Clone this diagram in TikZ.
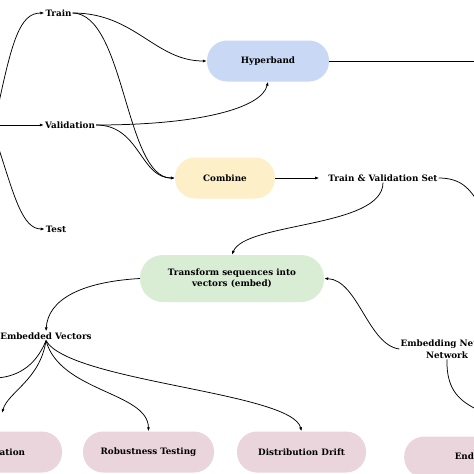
\documentclass[tikz,border=0pt]{standalone}
\usepackage{fontspec}
\setmainfont{DejaVu Serif}
\usetikzlibrary{arrows.meta}
\definecolor{cblue}{HTML}{C9D9F5}
\definecolor{cyellow}{HTML}{FDF0C9}
\definecolor{cgreen}{HTML}{D9ECD4}
\definecolor{cpink}{HTML}{EBD5DC}
\tikzset{
  lbl/.style={font=\fontsize{8.8}{11.5}\selectfont\bfseries, inner sep=1pt, align=center},
  pill/.style={lbl, rounded corners=20pt, minimum height=41pt},
  conn/.style={line width=0.75pt, -{Latex[length=4pt,width=3pt]}},
  plain/.style={line width=0.75pt},
}
\begin{document}
\begin{tikzpicture}[x=1pt,y=-1pt]
\useasboundingbox (0,0) rectangle (474,474);
\fill[white] (0,0) rectangle (474,474);
% text nodes
\node[lbl] (train) at (58.5,13) {Train};
\node[lbl] (val) at (70,125) {Validation};
\node[lbl] (test) at (56,229) {Test};
\node[lbl] (tvset) at (383,178) {Train \& Validation Set};
\node[lbl] (embvec) at (46,336) {Embedded Vectors};
\node[lbl] (embnet) at (447,349) {Embedding Neural\\Network};
% boxes
\node[pill, fill=cblue, minimum width=122pt] (hyper) at (268,61) {Hyperband};
\node[pill, fill=cyellow, minimum width=100pt] (combine) at (225,178) {Combine};
\node[pill, fill=cgreen, minimum width=184pt, minimum height=47pt, rounded corners=23pt] (transform) at (232,278.5) {Transform sequences into\\vectors (embed)};
\node[pill, fill=cpink, minimum width=138pt] (vis) at (-7,452) {Visualization};
\node[pill, fill=cpink, minimum width=131pt] (robust) at (148.5,452) {Robustness Testing};
\node[pill, fill=cpink, minimum width=129pt] (drift) at (301.5,452) {Distribution Drift};
\node[pill, fill=cpink, minimum width=196pt, anchor=west] (e2e) at (404,457) {End-to-End Testing};
% free ends
\coordinate (inA) at (-3,112);
\coordinate (inB) at (-3,125);
\coordinate (inC) at (-3,143);
\coordinate (outH) at (480,61);
\coordinate (outT) at (478,202);
\coordinate (outN) at (478,410);
\coordinate (outL) at (-4,378);
\coordinate (visIn) at (2,413);
% connectors
\draw[conn] (inA) .. controls (12,40) and (20,13) .. (train.west);
\draw[conn] (inB) -- (val.west);
\draw[conn] (inC) .. controls (14,195) and (22,229) .. (test.west);
\draw[conn] (train.east) .. controls (135,13) and (155,61) .. (hyper.west);
\draw[conn] (train.east) .. controls (125,14) and (125,178) .. (combine.west);
\draw[conn] (val.east) .. controls (200,125) and (262,108) .. (hyper.south);
\draw[conn] (val.east) .. controls (140,125) and (140,178) .. (combine.west);
\draw[conn] (combine.east) -- ++(44,0);
\draw[conn] (tvset.south) .. controls (383,228) and (245,222) .. (transform.north);
\draw[plain] (tvset.east) .. controls (462,178) and (470,190) .. (outT);
\draw[plain] (hyper.east) -- (outH);
\draw[conn] (transform.west) .. controls (80,282) and (48,300) .. (embvec.north);
\draw[conn] (embnet.west) .. controls (368,345) and (358,280) .. (transform.east);
\draw[plain] (embnet.south) .. controls (446,392) and (462,402) .. (outN);
\draw[plain] (embvec.south) .. controls (35,368) and (15,377) .. (outL);
\draw[conn] (embvec.south) .. controls (40,380) and (8,392) .. (visIn);
\draw[conn] (embvec.south) .. controls (60,392) and (148,392) .. (robust.north);
\draw[conn] (embvec.south) .. controls (70,382) and (292,392) .. (drift.north);
\end{tikzpicture}
\end{document}
